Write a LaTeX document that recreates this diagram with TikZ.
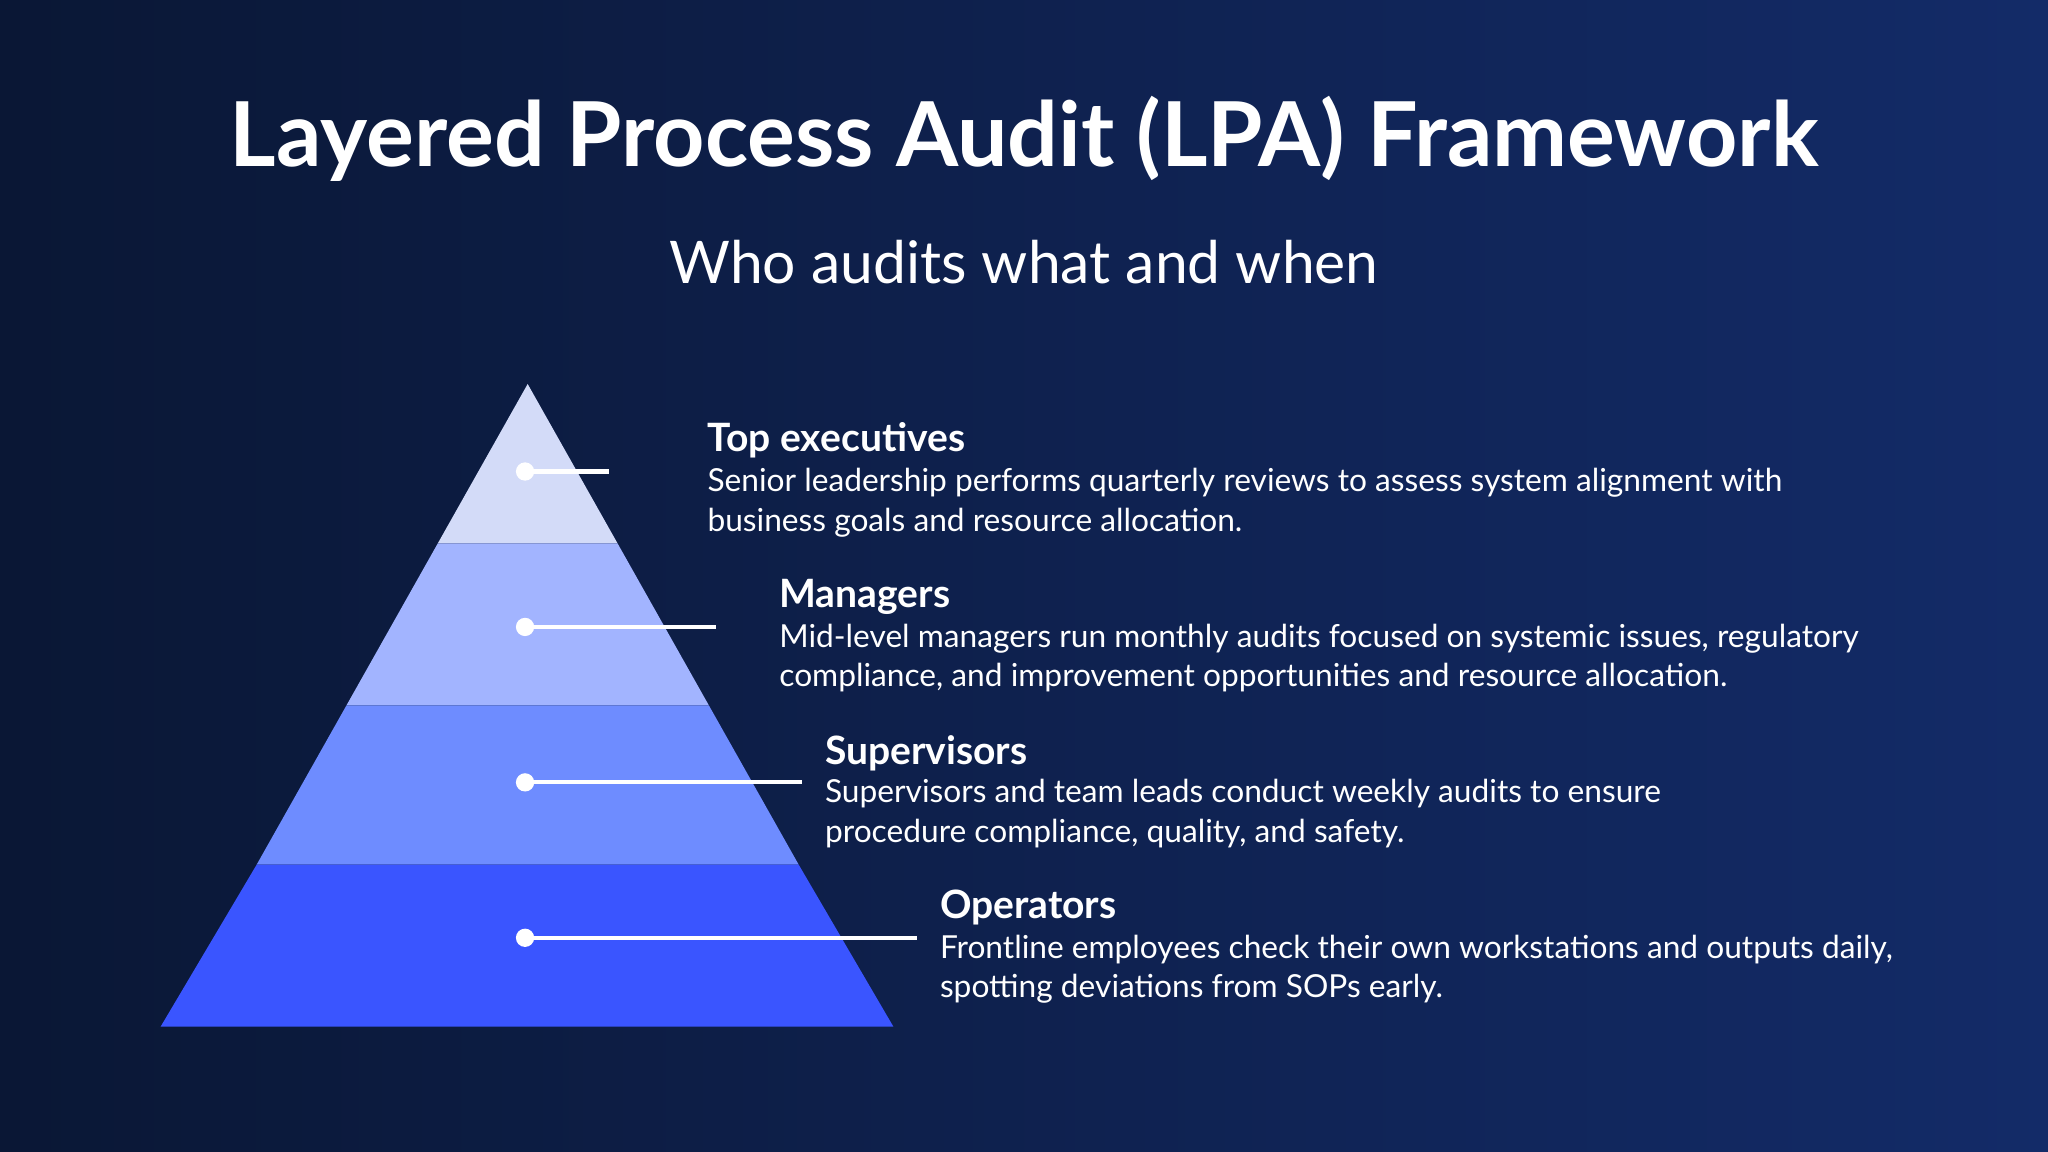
\documentclass[tikz,border=0pt]{standalone}
\usepackage{fontspec}
\setmainfont{Lato}
\definecolor{bgL}{HTML}{0A1735}
\definecolor{bgR}{HTML}{132B68}
\definecolor{c1}{HTML}{D3DBF8}
\definecolor{c2}{HTML}{A2B4FF}
\definecolor{c3}{HTML}{6E8CFF}
\definecolor{c4}{HTML}{3A55FF}
\begin{document}
\begin{tikzpicture}[x=0.01cm,y=-0.01cm,
  head/.style={anchor=base west,text=white,font=\fontsize{8.5}{9.5}\selectfont\bfseries,inner sep=0},
  body/.style={anchor=north west,text=white,font=\fontsize{6.9}{8.6}\selectfont,inner sep=0,align=left},
  lead/.style={white,line width=0.9pt},
  dot/.style={circle,fill=white,inner sep=0,minimum size=0.14cm}]
\shade[left color=bgL,right color=bgR] (0,0) rectangle (1568,882);
\useasboundingbox (0,0) rectangle (1568,882);
\node[text=white,font=\fontsize{19.5}{22}\selectfont\bfseries] (title) at (784,106) {Layered Process Audit (LPA) Framework};
\node[text=white,font=\fontsize{12.8}{15}\selectfont] (sub) at (784,201) {Who audits what and when};
\fill[c1] (404,294) -- (472.8,416) -- (335.2,416) -- cycle;
\fill[c2] (335.2,416) -- (472.8,416) -- (542.7,540) -- (265.3,540) -- cycle;
\fill[c3] (265.3,540) -- (542.7,540) -- (611.5,662) -- (196.5,662) -- cycle;
\fill[c4] (196.5,662) -- (611.5,662) -- (684,786) -- (123,786) -- cycle;
\node[dot] (d1) at (402,361) {}; \coordinate (e1) at (466,361);
\node[dot] (d2) at (402,480) {}; \coordinate (e2) at (548,480);
\node[dot] (d3) at (402,599) {}; \coordinate (e3) at (614,599);
\node[dot] (d4) at (402,718) {}; \coordinate (e4) at (702,718);
\foreach \i in {1,...,4} \draw[lead] (d\i.center) -- (e\i);
\node[head] (h1) at (541,346) {Top executives};
\node[body] (b1) at (541,358) {Senior leadership performs quarterly reviews to assess system alignment with\\business goals and resource allocation.};
\node[head] (h2) at (596,465) {Managers};
\node[body] (b2) at (596,477) {Mid-level managers run monthly audits focused on systemic issues, regulatory\\compliance, and improvement opportunities and resource allocation.};
\node[head] (h3) at (631,585) {Supervisors};
\node[body] (b3) at (631,596) {Supervisors and team leads conduct weekly audits to ensure\\procedure compliance, quality, and safety.};
\node[head] (h4) at (719,703) {Operators};
\node[body] (b4) at (719,715) {Frontline employees check their own workstations and outputs daily,\\spotting deviations from SOPs early.};
\end{tikzpicture}
\end{document}
